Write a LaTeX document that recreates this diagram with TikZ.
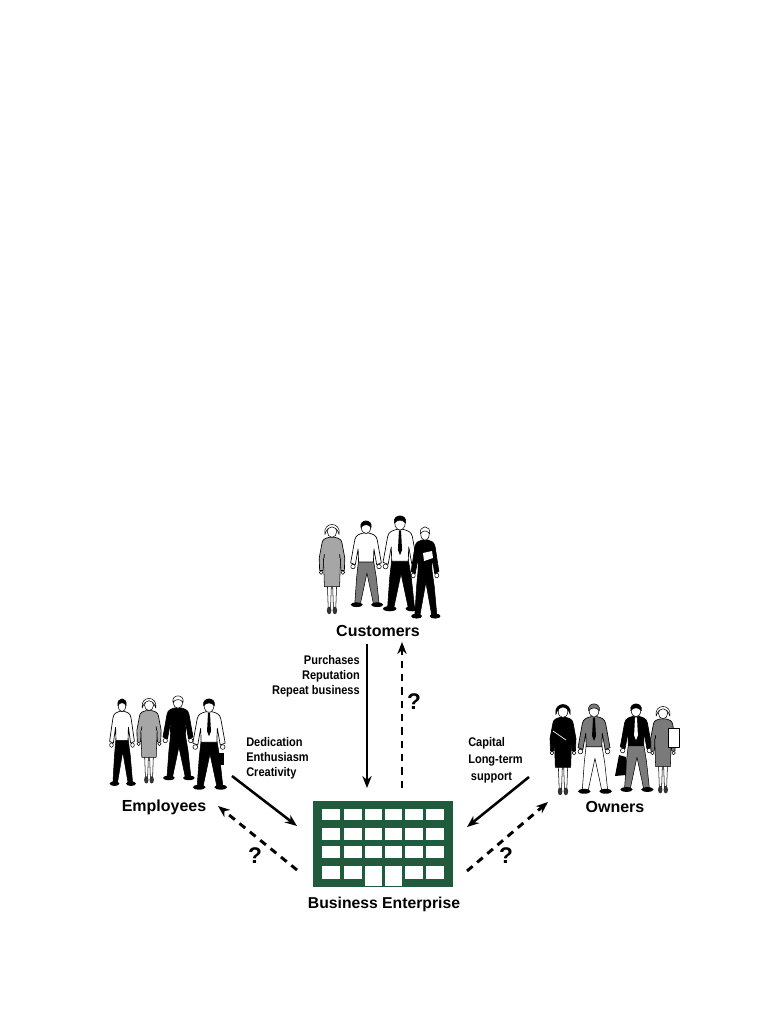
\documentclass[tikz,border=0pt]{standalone}
\usepackage{fontspec}
\setmainfont{Liberation Sans}
\newfontfamily\narrowfont[FakeStretch=0.88]{Liberation Sans}
\usetikzlibrary{arrows.meta}
\definecolor{bldggreen}{HTML}{1F5B3C}
\definecolor{halftone}{HTML}{A6A6A6}
\definecolor{darkhalf}{HTML}{7A7A7A}

\begin{document}
\begin{tikzpicture}[
x=0.75pt,
y=-0.75pt,
line join=round,
groupname/.style={
font=\fontsize{12pt}{14pt}\selectfont\bfseries,
inner sep=0 pt,
},
givenlist/.style={
font=\narrowfont\fontsize{9.4pt}{11.2pt}\selectfont\bfseries,
inner sep=0 pt,
},
query/.style={
font=\fontsize{17pt}{17pt}\selectfont\bfseries,
inner sep=0 pt,
},
bldg/.style={
rectangle,
fill=bldggreen,
minimum width=105 pt,
minimum height=64.5 pt,
inner sep=0 pt,
},
given/.style={
line width=1.9 pt,
-{Stealth[length=9pt, width=7pt]},
},
asked/.style={
line width=2.2 pt,
dash pattern=on 5.5pt off 4.5pt,
-{Stealth[length=9pt, width=7pt]},
},
pics/man/.style n args={4}{code={
\draw[fill=#2, line width=0.4 pt]
(-8,42) -- (8,42) -- (11,60) -- (14,88) -- (8,89) -- (1,56) -- (-6,89) -- (-12,88) -- (-10,60) -- cycle;
\fill[black]
(-10,90) ellipse [x radius=6.5, y radius=2.5]
(12,90) ellipse [x radius=6.5, y radius=2.5];
\draw[fill=white, line width=0.4 pt]
(-14,49) circle [radius=2.4]
(14,49) circle [radius=2.4];
\draw[fill=#1, line width=0.5 pt]
(-3,13) .. controls (-7,14) and (-11,15) .. (-12,20) -- (-16.5,45) -- (-11.5,47) -- (-8.5,30) -- (-8,44) -- (8,44) -- (8.5,30) -- (11.5,47) -- (16.5,45) -- (12,20) .. controls (11,15) and (7,14) .. (3,13) -- cycle;
\fill[#4]
(-1,14) -- (1,14) -- (2,33) -- (0,38) -- (-2,33) -- cycle;
\draw[fill=white, line width=0.4 pt]
(0,7) ellipse [x radius=5, y radius=6.5];
\draw[fill=#3, line width=0.4 pt]
(-5.5,7) .. controls (-7.5,-2.5) and (7.5,-2.5) .. (5.5,7) .. controls (3,3) and (-3,3) .. cycle;
}},
pics/woman/.style n args={3}{code={
\draw[fill=white, line width=0.4 pt]
(-5,60) -- (-4,88) -- (-1.5,88) -- (-0.5,60) -- cycle
(0.5,60) -- (1.5,88) -- (4,88) -- (5,60) -- cycle;
\fill[black!80]
(-3,91) ellipse [x radius=2.4, y radius=4]
(3,91) ellipse [x radius=2.4, y radius=4];
\draw[fill=white, line width=0.4 pt]
(-11.5,51) circle [radius=2]
(11.5,51) circle [radius=2];
\draw[fill=#1, line width=0.5 pt]
(-3,14) .. controls (-7,15) and (-10,16) .. (-10.5,20) -- (-13.5,36) -- (-13,49) -- (-9.5,49) -- (-8,32) -- (-9,40) -- (9,40) -- (8,32) -- (9.5,49) -- (13,49) -- (13.5,36) -- (10.5,20) .. controls (10,16) and (7,15) .. (3,14) -- cycle;
\filldraw[fill=#2, line width=0.4 pt]
(-9,36) -- (-8,66) -- (8,66) -- (9,36);
\draw[fill=white, line width=0.4 pt]
(0,8) ellipse [x radius=5, y radius=6];
\draw[fill=#3, line width=0.4 pt]
(-7.5,11) .. controls (-10,-3) and (10,-3) .. (7.5,11) .. controls (5.5,5) and (3,3) .. (0,3) .. controls (-3,3) and (-5.5,5) .. cycle;
}},
]

% page
\useasboundingbox (0,0) rectangle (768,1024);

% stakeholder names
\node [groupname] at (378,631) (customers) {Customers};
\node [groupname] at (164,807) (employees) {Employees};
\node [groupname] at (615,807) (owners) {Owners};

% building
\node [bldg] at (383,844) (enterprise) {};
\node [groupname, font=\fontsize{11.8pt}{14pt}\selectfont\bfseries] at (384,904) (enterprisename) {Business Enterprise};
\foreach \wx/\wd in {321.5/18.5, 343.5/18.5, 364.5/17, 384.5/17, 404.5/18.5, 426/18}
{
\foreach \wy/\wh in {808.5/11.5, 827.5/12.5, 845.5/12.5}
\fill[white] (\wx,\wy) rectangle +(\wd,\wh);
}
\foreach \wx/\wd in {321.5/18.5, 343.5/18.5, 404.5/18.5, 426/18}
\fill[white] (\wx,865.5) rectangle +(\wd,13);
\foreach \wx/\wd in {364.5/17, 384.5/17}
\fill[white] (\wx,865.5) rectangle +(\wd,20.5);

% customers
\pic[scale=0.95] at (332,524) {woman={halftone}{halftone}{white}};
\pic[scale=0.93] at (366,521) {man={white}{darkhalf}{black}{white}};
\pic[scale=1.03] at (400,516) {man={white}{black}{black}{black}};
\pic[scale=0.99, xscale=0.85] at (425,527) {man={black}{black}{white}{black}};
\fill[white] (423,553) -- (432,551) -- (433,558) -- (424,561) -- cycle;

% employees
\pic[scale=0.94, xscale=0.8] at (122,699) {man={white}{black}{black}{white}};
\pic[scale=0.9] at (149,698) {woman={halftone}{halftone}{white}};
\pic[scale=0.91] at (178,696) {man={black}{black}{white}{black}};
\pic[scale=0.98] at (209,699) {man={white}{black}{black}{black}};
\fill[black] (212,753) rectangle (224,765);

% owners
\pic[scale=0.96] at (563,704) {woman={black}{black}{black}};
\draw[white, line width=0.5 pt] (553,731) -- (566,740);
\pic[scale=0.97] at (594,704) {man={darkhalf}{white}{darkhalf}{black}};
\pic[scale=0.95] at (636,704) {man={black}{darkhalf}{black}{white}};
\fill[black] (619,755) -- (626,757) -- (626,775) -- (615,776) -- cycle;
\pic[scale=0.92] at (663,706) {woman={darkhalf}{darkhalf}{white}};
\draw[fill=white, line width=0.4 pt] (668,728) rectangle (679,747);

% what each group gives
\node [givenlist, align=right, anchor=north east] at (360,655) (customergives) {Purchases\\Reputation\\Repeat business};
\node [givenlist, align=left, anchor=north west] at (246,737) (employeegives) {Dedication\\Enthusiasm\\Creativity};
\node [givenlist, align=left, anchor=north west] at (468,737) (ownergives) {Capital\\[1.5 pt]Long-term\\[1.5 pt]\hspace*{2 pt}support};

% what is asked in return
\node [query] at (414,702) (customerquery) {?};
\node [query] at (255,856) (employeequery) {?};
\node [query] at (506,856) (ownerquery) {?};

% arrow ends
\path
(367,644) coordinate(cout)
(367,788) coordinate(cin)
(402,788) coordinate(bup)
(402,642) coordinate(ctop)
(232,776) coordinate(eout)
(297,826) coordinate(ein)
(297,870) coordinate(bleft)
(218,806) coordinate(etop)
(529,777) coordinate(oout)
(467,827) coordinate(oin)
(467,871) coordinate(bright)
(548,802) coordinate(otop)
;

% arrows
\draw [given] (cout) -- (cin);
\draw [given] (eout) -- (ein);
\draw [given] (oout) -- (oin);
\draw [asked] (bup) -- (ctop);
\draw [asked] (bleft) -- (etop);
\draw [asked] (bright) -- (otop);

\end{tikzpicture}
\end{document}
